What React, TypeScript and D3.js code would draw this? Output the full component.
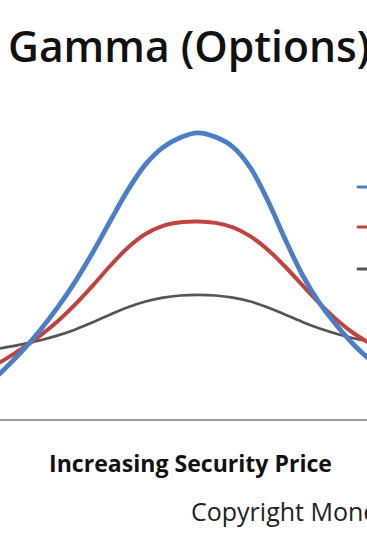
import React from "react";
import * as d3 from "d3";

const prices = [40, 45, 50, 55, 60, 65, 70, 75, 80, 85, 90, 95, 100, 105, 110, 115, 120, 125, 130, 135, 140, 145, 150];

const gammaShort = [1.17, 1.73, 2.33, 3.01, 3.77, 4.63, 5.6, 6.65, 7.67, 8.52, 9.09, 9.42, 9.57, 9.43, 9.1, 8.4, 7.3, 6.0, 4.8, 3.85, 3.1, 2.45, 1.92];
const gammaMid = [1.7, 2.03, 2.4, 2.82, 3.3, 3.86, 4.49, 5.15, 5.75, 6.2, 6.47, 6.59, 6.62, 6.57, 6.42, 6.12, 5.67, 5.1, 4.47, 3.85, 3.3, 2.85, 2.5];
const gammaLong = [2.33, 2.42, 2.53, 2.66, 2.82, 3.02, 3.26, 3.52, 3.76, 3.95, 4.08, 4.15, 4.17, 4.15, 4.08, 3.95, 3.75, 3.51, 3.26, 3.04, 2.86, 2.71, 2.59];

const seriesColors = ["#4a7ec6", "#c0433f", "#555555"];
const seriesWidths = [4.8, 4.0, 2.7];

const titleText = "Gamma (Options)";
const xAxisTitle = "Increasing Security Price";
const copyrightText = "Copyright Money-Zine.com";

const W = 367;
const H = 545;

export default function App() {
  const x = d3.scaleLinear().domain([40, 150]).range([-12, 373]);
  const y = d3.scaleLinear().domain([0, 10]).range([420, 120]);
  const all = [gammaShort, gammaMid, gammaLong];
  const line = d3
    .line<number>()
    .x((_, i) => x(prices[i]))
    .y((d) => y(d))
    .curve(d3.curveCatmullRom.alpha(0.5));
  const legendY = [187, 227, 269];

  return (
    <svg
      width={W}
      height={H}
      style={{ position: "absolute", left: 0, top: 0, display: "block", background: "#fff" }}
    >
      <rect width={W} height={H} fill="#fff" />
      <text x={8} y={62} fontFamily="Open Sans" fontWeight={600} fontSize={42.6} fill="#111">
        {titleText}
      </text>
      <line x1={0} x2={W} y1={y(0)} y2={y(0)} stroke="#9a9a9a" strokeWidth={2} />
      {[2, 1, 0].map((k) => (
        <path
          key={k}
          d={line(all[k]) || ""}
          fill="none"
          stroke={seriesColors[k]}
          strokeWidth={seriesWidths[k]}
          strokeLinecap="round"
        />
      ))}
      {seriesColors.map((c, k) => (
        <line key={k} x1={358} x2={378} y1={legendY[k]} y2={legendY[k]} stroke={c} strokeWidth={2.8} strokeLinecap="round" />
      ))}
      <text
        x={49}
        y={472}
        fontFamily="Open Sans"
        fontWeight={700}
        fontSize={23}
        fill="#111"
        textLength={283}
        lengthAdjust="spacingAndGlyphs"
      >
        {xAxisTitle}
      </text>
      <text x={191} y={521} fontFamily="Open Sans" fontSize={25} fill="#222">
        {copyrightText}
      </text>
    </svg>
  );
}
